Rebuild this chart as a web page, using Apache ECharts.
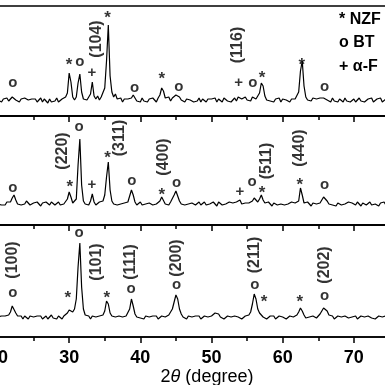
<!DOCTYPE html>
<html><head><meta charset="utf-8">
<script src="https://cdn.jsdelivr.net/npm/echarts@6/dist/echarts.min.js"></script>
<style>html,body{margin:0;padding:0;background:#fff}#c{width:385px;height:385px}</style>
</head><body><div id="c"></div>
<script>
// 2theta values (degree)
const angles = [
 20,20.25,20.5,20.75,21,21.25,21.5,21.75,22,22.25,22.5,22.75,23,23.25,23.5,23.75,24,24.25,24.5,24.75,
 25,25.25,25.5,25.75,26,26.25,26.5,26.75,27,27.25,27.5,27.75,28,28.25,28.5,28.75,29,29.25,29.5,29.75,
 30,30.25,30.5,30.75,31,31.25,31.5,31.75,32,32.25,32.5,32.75,33,33.25,33.5,33.75,34,34.25,34.5,34.75,
 35,35.25,35.5,35.75,36,36.25,36.5,36.75,37,37.25,37.5,37.75,38,38.25,38.5,38.75,39,39.25,39.5,39.75,
 40,40.25,40.5,40.75,41,41.25,41.5,41.75,42,42.25,42.5,42.75,43,43.25,43.5,43.75,44,44.25,44.5,44.75,
 45,45.25,45.5,45.75,46,46.25,46.5,46.75,47,47.25,47.5,47.75,48,48.25,48.5,48.75,49,49.25,49.5,49.75,
 50,50.25,50.5,50.75,51,51.25,51.5,51.75,52,52.25,52.5,52.75,53,53.25,53.5,53.75,54,54.25,54.5,54.75,
 55,55.25,55.5,55.75,56,56.25,56.5,56.75,57,57.25,57.5,57.75,58,58.25,58.5,58.75,59,59.25,59.5,59.75,
 60,60.25,60.5,60.75,61,61.25,61.5,61.75,62,62.25,62.5,62.75,63,63.25,63.5,63.75,64,64.25,64.5,64.75,
 65,65.25,65.5,65.75,66,66.25,66.5,66.75,67,67.25,67.5,67.75,68,68.25,68.5,68.75,69,69.25,69.5,69.75,
 70,70.25,70.5,70.75,71,71.25,71.5,71.75,72,72.25,72.5,72.75,73,73.25,73.5,73.75,74,74.25,74.5,74.75,75
];
// intensities (arbitrary units) of the three stacked patterns
const topPattern = [
 16,18,14,17,15,18,15,17,19,19,16,17,14,17,15,18,19,16,14,17,
 15,17,14,16,18,14,17,15,13,17,14,16,15,18,14,16,17,15,19,23,
 43,34,19,16,19,33,42,24,17,19,16,19,22,34,20,17,20,16,19,21,
 28,55,91,40,24,19,22,17,16,18,14,17,15,17,19,18,21,19,15,17,
 14,18,15,17,14,17,15,18,16,14,18,21,28,25,18,16,19,15,18,20,
 21,22,19,16,18,14,17,15,16,18,14,16,15,18,14,17,16,14,17,15,
 17,15,18,14,17,16,14,18,16,15,17,14,16,18,15,19,21,17,16,19,
 16,18,15,19,19,17,20,23,33,30,20,16,17,15,17,14,17,15,18,14,
 17,15,16,18,14,17,15,17,18,24,45,55,30,19,16,17,15,18,16,17,
 15,18,16,18,19,16,17,14,18,15,16,14,17,16,14,18,15,17,14,16,
 17,14,16,18,15,17,14,16,17,15,18,14,16,17,15,18,14,16,17,15,16
];
const middlePattern = [
 21,23,20,22,20,23,22,23,27,30,25,21,23,20,22,21,24,23,20,22,
 22,20,23,21,19,22,20,23,21,20,23,21,20,22,23,20,22,21,23,26,
 33,28,22,21,26,60,86,40,24,21,23,20,24,31,23,20,22,23,21,24,
 30,48,63,35,24,21,23,20,22,21,19,22,21,23,25,35,30,23,20,22,
 23,20,22,21,19,22,23,20,22,21,23,24,28,26,21,23,20,23,25,30,
 34,33,24,21,23,20,22,21,19,22,23,20,21,23,20,22,23,20,22,21,
 20,23,21,19,23,22,20,22,21,19,23,21,22,20,23,23,25,21,23,22,
 20,22,21,24,27,25,23,26,30,25,22,20,23,21,19,22,23,20,22,21,
 23,20,22,21,19,23,21,22,20,24,37,30,22,20,23,21,19,22,23,21,
 20,22,24,28,29,24,21,23,20,22,19,22,23,20,22,21,19,23,21,22,
 22,20,23,21,19,22,23,20,21,23,20,22,21,23,19,22,21,23,20,22,21
];
const bottomPattern = [
 20,18,21,19,21,19,22,25,31,29,24,21,19,21,18,21,20,18,21,19,
 20,18,21,19,21,18,20,21,18,20,22,19,20,18,21,20,18,21,22,24,
 27,26,25,28,38,70,94,50,28,22,20,21,18,21,19,20,18,21,20,22,
 26,36,33,24,21,19,20,18,21,19,20,18,21,22,28,38,31,23,20,21,
 19,21,18,21,19,20,18,21,19,21,18,20,21,19,20,21,22,24,28,35,
 42,38,28,23,20,21,18,21,19,20,18,21,19,21,18,20,21,19,20,18,
 21,22,24,26,23,20,21,18,20,21,19,20,18,21,19,20,21,18,20,21,
 19,22,25,33,43,38,28,24,22,20,21,18,20,21,19,21,18,20,21,19,
 20,21,18,20,21,19,20,21,22,25,29,26,22,19,21,20,18,21,20,19,
 21,23,26,29,30,26,22,20,21,18,20,21,19,20,18,21,20,19,21,20,
 19,21,18,20,21,19,20,18,21,20,19,21,18,20,21,19,20,18,21,20,19
];
// peak annotations: [2theta, height, text]
const topMarks = [
 [22.1,33,'o'],[30.0,56,'*'],[31.5,54,'o'],[33.2,43,'+'],[33.9,77,'(104)'],[35.4,103,'*'],
 [39.2,28,'o'],[43.0,42,'*'],[45.4,29,'o'],[53.6,71,'(116)'],[53.8,33,'+'],[55.8,33,'o'],
 [57.1,43,'*'],[62.7,56,'*'],[65.9,29,'o']
];
const middleMarks = [
 [22.1,37,'o'],[30.1,43,'*'],[29.1,74,'(220)'],[31.4,98,'o'],[33.2,40,'+'],[35.4,72,'*'],
 [37.1,87,'(311)'],[38.8,44,'o'],[43.0,35,'*'],[43.2,68,'(400)'],[45.1,42,'o'],[54.0,33,'+'],
 [55.7,43,'o'],[57.1,37,'*'],[57.8,64,'(511)'],[62.4,45,'*'],[62.4,77,'(440)'],[65.9,40,'o']
];
const bottomMarks = [
 [22.1,44,'o'],[22.1,77,'(100)'],[29.8,44,'*'],[31.4,104,'o'],[33.9,75,'(101)'],[35.3,44,'*'],
 [38.7,48,'o'],[38.7,75,'(111)'],[45.1,52,'o'],[45.1,79,'(200)'],[56.1,52,'o'],[56.1,82,'(211)'],
 [57.4,40,'*'],[62.4,40,'*'],[65.9,41,'o'],[65.9,72,'(202)']
];
const legendTexts = ['* NZF','o BT','+ \u03b1-F'];
const xTicks = [20,30,40,50,60,70];

const FONT = '"Liberation Sans", Arial, sans-serif';
const panels = [
 {top:6, height:110, data:topPattern, marks:topMarks},
 {top:116, height:109, data:middlePattern, marks:middleMarks},
 {top:225, height:112, data:bottomPattern, marks:bottomMarks}
];
const chart = echarts.init(document.getElementById('c'), null, {renderer:'canvas'});
const series = [];
panels.forEach((p,i)=>{
  series.push({type:'line', xAxisIndex:i, yAxisIndex:i, showSymbol:false, symbol:'none',
    data: angles.map((a,k)=>[a,p.data[k]]),
    lineStyle:{color:'#000', width:1.2}, silent:true});
  series.push({type:'scatter', xAxisIndex:i, yAxisIndex:i, symbolSize:1,
    itemStyle:{color:'rgba(0,0,0,0)'}, silent:true,
    data: p.marks.map(m=>{
      const rot = m[2].charAt(0)==='(';
      const star = m[2]==='*';
      return {name:m[2], value:[m[0],m[1]], label:{
        show:true, position:'inside', formatter:'{b}', color:'#000', fontFamily:FONT, fontWeight:'bold',
        fontSize: rot?16:(star?17:15), rotate: rot?90:0, offset: star?[0,5]:[0,0]}};
    })});
});
const option = {
  animation:false,
  backgroundColor:'#fff',
  grid: panels.map(p=>({left:-2, right:-40, top:p.top, height:p.height, show:true, borderColor:'#000', borderWidth:1.5,
    backgroundColor:'transparent', containLabel:false, outerBoundsMode:'none'})),
  xAxis: panels.map((p,i)=>({gridIndex:i, type:'value', min:xTicks[0], max:80, interval:10,
    axisLine:{show:true, lineStyle:{color:'#000', width:1.5}},
    axisTick:{show:true, inside:false, length:6, lineStyle:{color:'#000', width:1.5}},
    minorTick:{show:true, splitNumber:2, length:4, lineStyle:{color:'#000', width:1.5}},
    splitLine:{show:false}, minorSplitLine:{show:false},
    axisLabel:{show:i===2, color:'#000', fontSize:18, fontWeight:'bold', fontFamily:FONT, margin:12}})),
  yAxis: panels.map((p,i)=>({gridIndex:i, type:'value', min:0, max:p.height, show:false})),
  series: series,
  graphic: [
    ...legendTexts.map((t,k)=>({type:'text', x:339, y:[20,43,67][k], style:{text:t, fill:'#000', font:'bold 16px '+FONT, align:'left', verticalAlign:'middle'}})),
    {type:'text', x:207, y:377, style:{text:'2{i|\u03b8} (degree)', fill:'#000', font:'18px '+FONT, align:'center', verticalAlign:'middle',
      rich:{i:{fontStyle:'italic', fontSize:18, fontFamily:FONT, fill:'#000'}}}}
  ]
};
chart.setOption(option);
</script></body></html>
